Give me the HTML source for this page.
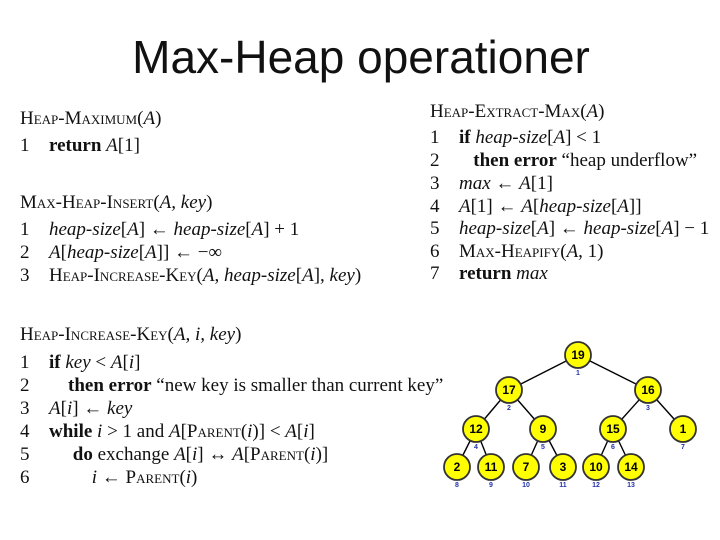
<!DOCTYPE html>
<html><head><style>
body{margin:0;width:720px;height:540px;background:#fff;position:relative;overflow:hidden;font-family:"Liberation Serif",serif;color:#111}
.t{position:absolute;left:0;top:30px;width:722px;text-align:center;font-family:"Liberation Sans",sans-serif;font-size:46px}
.l{position:absolute;font-size:19px;white-space:nowrap;line-height:20px}
.n{display:inline-block;width:29px}
.sc{font-variant:small-caps}
b{font-weight:bold}
</style></head><body>
<div class="t">Max-Heap operationer</div>

<div class="l sc" style="left:20px;top:109px">Heap-Maximum<span style="font-variant:normal">(<i>A</i>)</span></div>
<div class="l" style="left:20px;top:136px"><span class="n">1</span><b>return</b> <i>A</i>[1]</div>

<div class="l sc" style="left:20px;top:193px">Max-Heap-Insert<span style="font-variant:normal">(<i>A, key</i>)</span></div>
<div class="l" style="left:20px;top:220px"><span class="n">1</span><i>heap-size</i>[<i>A</i>] ← <i>heap-size</i>[<i>A</i>] + 1</div>
<div class="l" style="left:20px;top:243px"><span class="n">2</span><i>A</i>[<i>heap-size</i>[<i>A</i>]] ← −∞</div>
<div class="l" style="left:20px;top:266px"><span class="n">3</span><span class="sc">Heap-Increase-Key</span>(<i>A</i>, <i>heap-size</i>[<i>A</i>], <i>key</i>)</div>

<div class="l sc" style="left:430px;top:102px">Heap-Extract-Max<span style="font-variant:normal">(<i>A</i>)</span></div>
<div class="l" style="left:430px;top:128px"><span class="n">1</span><b>if</b> <i>heap-size</i>[<i>A</i>] &lt; 1</div>
<div class="l" style="left:430px;top:151px"><span class="n">2</span>&nbsp;&nbsp;&nbsp;<b>then error</b> “heap underflow”</div>
<div class="l" style="left:430px;top:174px"><span class="n">3</span><i>max</i> ← <i>A</i>[1]</div>
<div class="l" style="left:430px;top:197px"><span class="n">4</span><i>A</i>[1] ← <i>A</i>[<i>heap-size</i>[<i>A</i>]]</div>
<div class="l" style="left:430px;top:219px"><span class="n">5</span><i>heap-size</i>[<i>A</i>] ← <i>heap-size</i>[<i>A</i>] − 1</div>
<div class="l" style="left:430px;top:242px"><span class="n">6</span><span class="sc">Max-Heapify</span>(<i>A</i>, 1)</div>
<div class="l" style="left:430px;top:264px"><span class="n">7</span><b>return</b> <i>max</i></div>

<div class="l sc" style="left:20px;top:325px">Heap-Increase-Key<span style="font-variant:normal">(<i>A, i, key</i>)</span></div>
<div class="l" style="left:20px;top:353px"><span class="n">1</span><b>if</b> <i>key</i> &lt; <i>A</i>[<i>i</i>]</div>
<div class="l" style="left:20px;top:376px"><span class="n">2</span>&nbsp;&nbsp;&nbsp;&nbsp;<b>then error</b> “new key is smaller than current key”</div>
<div class="l" style="left:20px;top:399px"><span class="n">3</span><i>A</i>[<i>i</i>] ← <i>key</i></div>
<div class="l" style="left:20px;top:422px"><span class="n">4</span><b>while</b> <i>i</i> &gt; 1 and <i>A</i>[<span class="sc">Parent</span>(<i>i</i>)] &lt; <i>A</i>[<i>i</i>]</div>
<div class="l" style="left:20px;top:445px"><span class="n">5</span>&nbsp;&nbsp;&nbsp;&nbsp;&nbsp;<b>do</b> exchange <i>A</i>[<i>i</i>] ↔ <i>A</i>[<span class="sc">Parent</span>(<i>i</i>)]</div>
<div class="l" style="left:20px;top:468px"><span class="n">6</span>&nbsp;&nbsp;&nbsp;&nbsp;&nbsp;&nbsp;&nbsp;&nbsp;&nbsp;<i>i</i> ← <span class="sc">Parent</span>(<i>i</i>)</div>

<svg style="position:absolute;left:0;top:0" width="720" height="540" font-family="Liberation Sans,sans-serif">
<g stroke="#000" stroke-width="1.4">
<line x1="578" y1="355" x2="509" y2="390"/><line x1="578" y1="355" x2="648" y2="390"/>
<line x1="509" y1="390" x2="476" y2="429"/><line x1="509" y1="390" x2="543" y2="429"/>
<line x1="648" y1="390" x2="613" y2="429"/><line x1="648" y1="390" x2="683" y2="429"/>
<line x1="476" y1="429" x2="457" y2="467"/><line x1="476" y1="429" x2="491" y2="467"/>
<line x1="543" y1="429" x2="526" y2="467"/><line x1="543" y1="429" x2="563" y2="467"/>
<line x1="613" y1="429" x2="596" y2="467"/><line x1="613" y1="429" x2="631" y2="467"/>
</g>
<g fill="#ffff00" stroke="#333" stroke-width="1.8">
<circle cx="578" cy="355" r="13"/><circle cx="509" cy="390" r="13"/><circle cx="648" cy="390" r="13"/>
<circle cx="476" cy="429" r="13"/><circle cx="543" cy="429" r="13"/><circle cx="613" cy="429" r="13"/><circle cx="683" cy="429" r="13"/>
<circle cx="457" cy="467" r="13"/><circle cx="491" cy="467" r="13"/><circle cx="526" cy="467" r="13"/><circle cx="563" cy="467" r="13"/><circle cx="596" cy="467" r="13"/><circle cx="631" cy="467" r="13"/>
</g>
<g font-size="12" font-weight="bold" text-anchor="middle" fill="#000">
<text x="578" y="359">19</text><text x="509" y="394">17</text><text x="648" y="394">16</text>
<text x="476" y="433">12</text><text x="543" y="433">9</text><text x="613" y="433">15</text><text x="683" y="433">1</text>
<text x="457" y="471">2</text><text x="491" y="471">11</text><text x="526" y="471">7</text><text x="563" y="471">3</text><text x="596" y="471">10</text><text x="631" y="471">14</text>
</g>
<g font-size="7" font-weight="bold" text-anchor="middle" fill="#2233aa">
<text x="578" y="375">1</text><text x="509" y="410">2</text><text x="648" y="410">3</text>
<text x="476" y="449">4</text><text x="543" y="449">5</text><text x="613" y="449">6</text><text x="683" y="449">7</text>
<text x="457" y="487">8</text><text x="491" y="487">9</text><text x="526" y="487">10</text><text x="563" y="487">11</text><text x="596" y="487">12</text><text x="631" y="487">13</text>
</g>
</svg>
</body></html>
